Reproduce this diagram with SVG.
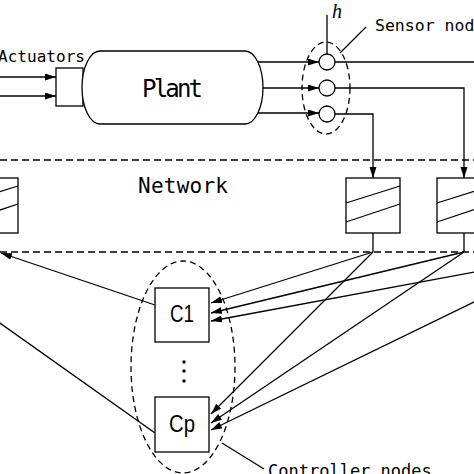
<svg xmlns="http://www.w3.org/2000/svg" width="474" height="474" viewBox="0 0 474 474">
<style>
.ln{fill:none;stroke:#000;stroke-width:1.3}
.bx{fill:#fff;stroke:#000;stroke-width:1.3}
.dash{fill:none;stroke:#000;stroke-width:1.3;stroke-dasharray:7 4}
.edash{fill:none;stroke:#000;stroke-width:1.3;stroke-dasharray:6 4}
.mono{font-family:"DejaVu Sans Mono","Liberation Mono",monospace;fill:#000}
.sans{font-family:"Liberation Sans",Arial,sans-serif;fill:#000}
</style>
<defs>
<marker id="ah" markerUnits="userSpaceOnUse" markerWidth="12" markerHeight="8" refX="11" refY="3.5" orient="auto">
<path d="M0,0 L11,3.5 L0,7 Z" fill="#000"/>
</marker>
</defs>
<rect width="474" height="474" fill="#fff"/>
<g id="network">
<line class="dash" x1="0" y1="160" x2="474" y2="160"/>
<line class="dash" x1="0" y1="252" x2="474" y2="252"/>
<text class="mono" x="138" y="193" font-size="21" textLength="90">Network</text>
</g>
<g id="connectors">
<line class="ln" x1="0" y1="77" x2="56" y2="77" marker-end="url(#ah)"/>
<line class="ln" x1="0" y1="96" x2="56" y2="96" marker-end="url(#ah)"/>
<line class="ln" x1="258" y1="62" x2="319" y2="62" marker-end="url(#ah)"/>
<line class="ln" x1="263" y1="88" x2="319" y2="88" marker-end="url(#ah)"/>
<line class="ln" x1="258" y1="113" x2="319" y2="113" marker-end="url(#ah)"/>
<line class="ln" x1="327" y1="15" x2="327" y2="54"/>
<line class="ln" x1="335" y1="62" x2="474" y2="62"/>
<polyline class="ln" points="335,88 464,88 464,178" marker-end="url(#ah)"/>
<polyline class="ln" points="335,114 373,114 373,178" marker-end="url(#ah)"/>
<line class="ln" x1="373" y1="233" x2="373" y2="252"/>
<line class="ln" x1="464" y1="233" x2="464" y2="252"/>
<line class="ln" x1="373" y1="252" x2="211" y2="303" marker-end="url(#ah)"/>
<line class="ln" x1="464" y1="252" x2="211" y2="313" marker-end="url(#ah)"/>
<line class="ln" x1="480" y1="271" x2="211" y2="321" marker-end="url(#ah)"/>
<line class="ln" x1="373" y1="252" x2="211" y2="414" marker-end="url(#ah)"/>
<line class="ln" x1="464" y1="252" x2="211" y2="423" marker-end="url(#ah)"/>
<line class="ln" x1="480" y1="299" x2="211" y2="430" marker-end="url(#ah)"/>
<line class="ln" x1="155" y1="305" x2="1" y2="253" marker-end="url(#ah)"/>
<line class="ln" x1="155" y1="433" x2="-20" y2="309"/>
<line class="ln" x1="340" y1="53" x2="366" y2="27"/>
<line class="ln" x1="222" y1="443" x2="264" y2="469"/>
</g>
<g id="actuators">
<rect class="bx" x="56" y="68" width="27" height="38"/>
<text class="mono" x="-2" y="62" font-size="16" textLength="87">Actuators</text>
</g>
<g id="plant">
<path class="bx" d="M100,51 H245 A18,36.5 0 0 1 245,124 H100 A18,36.5 0 0 1 100,51 Z"/>
<text class="mono" x="142" y="97" font-size="24" textLength="61">Plant</text>
</g>
<g id="sensor-nodes">
<circle class="bx" cx="327" cy="62" r="8"/>
<circle class="bx" cx="327" cy="88" r="8"/>
<circle class="bx" cx="327" cy="114" r="8"/>
<ellipse class="edash" cx="326" cy="88" rx="24" ry="46"/>
<text x="332" y="18" font-family="Liberation Serif,serif" font-style="italic" font-size="20">h</text>
<text class="mono" x="375" y="31" font-size="16.5">Sensor nodes</text>
</g>
<g id="buffer-left">
<rect class="bx" x="-36" y="178" width="54" height="55"/>
<line class="ln" x1="-36" y1="203" x2="18" y2="186"/>
<line class="ln" x1="-36" y1="222" x2="18" y2="204"/>
</g>
<g id="buffer-a">
<rect class="bx" x="346" y="178" width="54" height="55"/>
<line class="ln" x1="346" y1="203" x2="400" y2="186"/>
<line class="ln" x1="346" y1="222" x2="400" y2="204"/>
</g>
<g id="buffer-b">
<rect class="bx" x="437" y="178" width="54" height="55"/>
<line class="ln" x1="437" y1="203" x2="491" y2="186"/>
<line class="ln" x1="437" y1="222" x2="491" y2="204"/>
</g>
<g id="controller-nodes">
<ellipse class="edash" cx="183" cy="367" rx="52" ry="106"/>
<text class="mono" x="268" y="477" font-size="17">Controller nodes</text>
</g>
<g id="c1">
<rect class="bx" x="155" y="288" width="54" height="54"/>
<text class="sans" x="170" y="322" font-size="23" textLength="24" lengthAdjust="spacingAndGlyphs">C1</text>
</g>
<g id="dots">
<circle cx="184" cy="362" r="1.7" fill="#000"/>
<circle cx="184" cy="371" r="1.7" fill="#000"/>
<circle cx="184" cy="381" r="1.7" fill="#000"/>
</g>
<g id="cp">
<rect class="bx" x="155" y="397" width="54" height="55"/>
<text class="sans" x="169" y="432" font-size="23" textLength="26" lengthAdjust="spacingAndGlyphs">Cp</text>
</g>
</svg>
